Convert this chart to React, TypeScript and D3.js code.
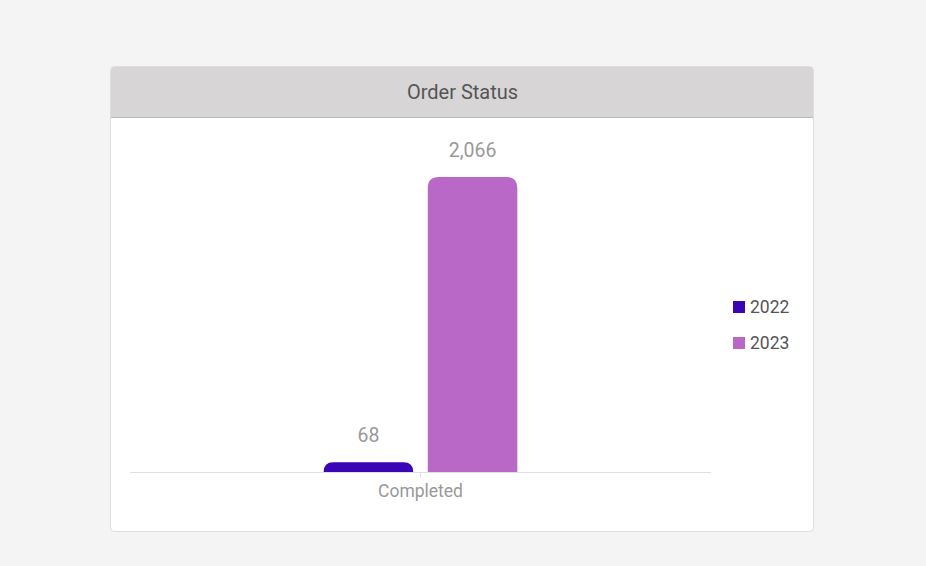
import React from "react";
import * as d3 from "d3";

const categories = ["Completed"];
const seriesNames = ["2022", "2023"];
const values2022 = [68];
const values2023 = [2066];
const seriesColors = ["#3a05b5", "#ba68c8"];
const title = "Order Status";

const W = 926;
const H = 566;

function topRoundedRect(x: number, y: number, w: number, h: number, r: number) {
  const rr = Math.min(r, w / 2, h);
  return `M${x},${y + h}V${y + rr}Q${x},${y} ${x + rr},${y}H${x + w - rr}Q${x + w},${y} ${x + w},${y + rr}V${y + h}Z`;
}

export default function App() {
  const font = "Roboto, 'Noto Sans', sans-serif";
  const card = { x: 110, y: 66, w: 704, h: 466 };
  const headerH = 51;
  const plot = { left: 130, right: 711, top: 118, bottom: 472 };

  const series = [values2022, values2023];
  const maxV = d3.max(series.flat()) as number;

  const x0 = d3.scaleBand<string>().domain(categories).range([plot.left, plot.right]).paddingInner(0).paddingOuter(1);
  const x1 = d3.scaleBand<string>().domain(seriesNames).range([0, x0.bandwidth()]).paddingInner(0.14).paddingOuter(0);
  const y = d3.scaleLinear().domain([0, maxV * 1.2]).range([plot.bottom, plot.top]);
  const fmt = d3.format(",");

  return (
    <div style={{ position: "fixed", left: 0, top: 0, width: W, height: H, background: "#f4f4f4" }}>
      <svg width={W} height={H} style={{ display: "block", fontFamily: font }}>
        <rect x={0} y={0} width={W} height={H} fill="#f4f4f4" />
        <rect x={card.x + 0.5} y={card.y + 0.5} width={card.w - 1} height={card.h - 1} rx={4} fill="#ffffff" stroke="#dddddd" />
        <path
          d={`M${card.x + 1},${card.y + headerH}V${card.y + 4}Q${card.x + 1},${card.y + 1} ${card.x + 4},${card.y + 1}H${card.x + card.w - 4}Q${card.x + card.w - 1},${card.y + 1} ${card.x + card.w - 1},${card.y + 4}V${card.y + headerH}Z`}
          fill="#d7d5d6"
        />
        <line x1={card.x + 1} x2={card.x + card.w - 1} y1={card.y + headerH + 0.5} y2={card.y + headerH + 0.5} stroke="#b9b9b9" />
        <text x={card.x + card.w / 2 + 0.5} y={card.y + headerH / 2} textAnchor="middle" dominantBaseline="central" fontSize={20} fill="#555555">
          {title}
        </text>

        {categories.map((c, ci) => (
          <g key={c} transform={`translate(${x0(c)},0)`}>
            {seriesNames.map((s, si) => {
              const v = series[si][ci];
              const bx = x1(s) as number;
              const by = y(v);
              const bh = plot.bottom - by;
              return (
                <g key={s}>
                  <path d={topRoundedRect(bx, by, x1.bandwidth(), bh, 11)} fill={seriesColors[si]} />
                  <text x={bx + x1.bandwidth() / 2} y={by - 27} textAnchor="middle" dominantBaseline="central" fontSize={19.5} fill="#999999">
                    {fmt(v)}
                  </text>
                </g>
              );
            })}
          </g>
        ))}

        <line x1={plot.left} x2={plot.right} y1={plot.bottom + 0.5} y2={plot.bottom + 0.5} stroke="#e0e0e0" />
        {categories.map((c) => {
          const cx = (x0(c) as number) + x0.bandwidth() / 2;
          return (
            <g key={c}>
              <line x1={cx} x2={cx} y1={plot.bottom} y2={plot.bottom + 5} stroke="#e0e0e0" />
              <text x={cx} y={plot.bottom + 19} textAnchor="middle" dominantBaseline="central" fontSize={17.5} fill="#999999">
                {c}
              </text>
            </g>
          );
        })}

        {seriesNames.map((s, i) => (
          <g key={s} transform={`translate(733,${301 + i * 36})`}>
            <rect x={0} y={0} width={12} height={12} fill={seriesColors[i]} />
            <text x={17} y={6} dominantBaseline="central" fontSize={17.5} fill="#555555">
              {s}
            </text>
          </g>
        ))}
      </svg>
    </div>
  );
}
